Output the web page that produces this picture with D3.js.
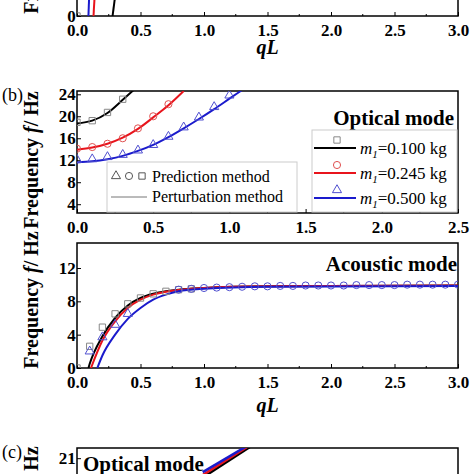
<!DOCTYPE html><html><head><meta charset="utf-8">
<script src="https://cdn.jsdelivr.net/npm/d3@7"></script>
<style>body{margin:0;background:#fff}text{font-family:"Liberation Serif",serif}</style></head><body>
<svg id="s" width="474" height="474"></svg>
<script>
const colors=["#000","#e8141c","#1a1acc"];
const mcol=["#888","#e05050","#5050d0"];
const masses=["0.100","0.245","0.500"];
// Panel a (partial)
const aLines=[[[0.28,0],[0.42,2.6]],[[0.13,0],[0.19,2.6]],[[0.09,0],[0.13,2.6]]];
const aMarks=[[[0.0,0],[0.2,1.7]],[[0.1,2.0],[0.15,0.9]],[[0.08,0.9]]];
// Panel b optical
const bX=[0,0.1,0.2,0.3,0.4,0.5,0.6,0.7,0.8,0.9,1.0,1.1];
const bLines=[[18.7,19.2,20.6,23.0,25.5],[13.9,14.3,15.0,16.1,17.7,19.8,22.0,24.6],[11.6,11.8,12.2,12.8,13.7,14.8,16.2,17.8,19.5,21.3,23.2,25.1]];
const bMarks=[[18.9,19.2,20.7,23.1],[14.1,14.4,15.0,16.0,17.8,20.0,22.2],[12.1,12.2,12.6,13.0,13.8,14.8,16.3,18.0,19.8,21.7,23.8]];
// Acoustic
const cLines=[
 [[0.09,0],[0.1,0.5],[0.2,3.8],[0.3,6.0],[0.4,7.5],[0.5,8.4],[0.6,8.9],[0.7,9.2],[0.8,9.4],[1.0,9.6],[1.5,9.8],[3.0,9.9]],
 [[0.11,0],[0.2,3.3],[0.3,5.6],[0.4,7.2],[0.5,8.2],[0.6,8.8],[0.7,9.15],[0.8,9.35],[1.0,9.6],[1.5,9.8],[3.0,9.9]],
 [[0.16,0],[0.2,1.5],[0.3,4.0],[0.4,5.9],[0.5,7.2],[0.6,8.2],[0.7,8.8],[0.8,9.2],[1.0,9.5],[1.5,9.75],[3.0,9.85]]];
const cSq=[[0,0],[0.1,2.6],[0.2,4.9],[0.3,6.5],[0.4,7.7],[0.5,8.4],[0.6,8.9],[0.7,9.2],[0.8,9.4],[0.9,9.5]];
const cTri=[[0.1,2.0],[0.2,3.7],[0.3,5.2],[0.4,6.5]];
const cCirX=[0.8,0.9,1.0,1.1,1.2,1.3,1.4,1.5,1.6,1.7,1.8,1.9,2.0,2.1,2.2,2.3,2.4,2.5,2.6,2.7,2.8,2.9,3.0];
const cCirY=[9.4,9.5,9.6,9.65,9.7,9.75,9.8,9.8,9.85,9.85,9.9,9.9,9.9,9.9,9.95,9.95,9.95,9.95,10,10,10,10,10];
// Panel c partial
const dLines=[[[1.0,19.0],[1.45,23]],[[0.97,19.0],[1.43,23]],[[0.99,19.5],[1.46,23.3]]];
const xt3=[0,0.5,1,1.5,2,2.5,3], xt25=[0,0.5,1,1.5,2,2.5];
const ytB=[4,8,12,16,20,24], ytC=[0,4,8,12];

const svg=d3.select("#s");
const L=77,R=458;
function sym(g,type,x,y,c){
  const t={sq:d3.symbolSquare,ci:d3.symbolCircle,tr:d3.symbolTriangle}[type];
  const size={sq:40,ci:40,tr:36}[type];
  g.append("path").attr("d",d3.symbol(t,size)()).attr("transform",`translate(${x},${y})`).attr("fill","none").attr("stroke",c).attr("stroke-width",1);
}
function panel(top,bot,xd,yd,xt,yt,showX){
  const x=d3.scaleLinear().domain(xd).range([L,R]);
  const y=d3.scaleLinear().domain(yd).range([bot,top]);
  const g=svg.append("g");
  const ax=g.append("g").attr("transform",`translate(0,${bot})`).call(d3.axisBottom(x).tickValues(xt).tickFormat(d3.format(".1f")).tickSize(-4).tickSizeOuter(0));
  ax.selectAll("text").attr("dy","1.0em").style("font-size","17px").style("font-weight","bold").style("font-family","Liberation Serif");
  if(!showX) ax.selectAll("text").remove();
  const ay=g.append("g").attr("transform",`translate(${L},0)`).call(d3.axisLeft(y).tickValues(yt).tickFormat(d3.format("d")).tickSize(-4).tickSizeOuter(0));
  ay.selectAll("text").attr("dx","0.1em").style("font-size","17px").style("font-weight","bold").style("font-family","Liberation Serif");
  const xm=[];for(let i=0;i<xt.length-1;i++)xm.push((xt[i]+xt[i+1])/2);
  g.selectAll(".xm").data(xm).join("line").attr("x1",x).attr("x2",x).attr("y1",bot).attr("y2",bot-2).attr("stroke","#000");
  g.append("rect").attr("x",L).attr("y",top).attr("width",R-L).attr("height",bot-top).attr("fill","none").attr("stroke","#000").attr("stroke-width",1.5);
  g.selectAll(".domain").remove();
  const clip="c"+top;
  svg.append("clipPath").attr("id",clip).append("rect").attr("x",L).attr("y",top).attr("width",R-L).attr("height",bot-top);
  const pg=svg.append("g").attr("clip-path",`url(#${clip})`);
  return {x,y,g,pg};
}
const line=(x,y)=>d3.line().x(d=>x(d[0])).y(d=>y(d[1])).curve(d3.curveMonotoneX);
function ylabel(cx,cy){svg.append("text").attr("transform",`translate(${cx},${cy}) rotate(-90)`).attr("text-anchor","middle").style("font-size","20px").style("font-weight","bold")
  .html('Frequency <tspan font-style="italic">f</tspan>/ Hz');}
function xlabel(cy){svg.append("text").attr("x",(L+R)/2).attr("y",cy).attr("text-anchor","middle").style("font-size","20px").style("font-weight","bold").style("font-style","italic").text("qL");}

// a
let P=panel(-120,16,[0,3],[0,2.6],xt3,[0],true);
aLines.forEach((l,i)=>P.pg.append("path").attr("d",line(P.x,P.y)(l)).attr("fill","none").attr("stroke",colors[i]).attr("stroke-width",2));
aMarks[0].forEach(d=>sym(P.pg,"sq",P.x(d[0]),P.y(d[1]),mcol[0]));
aMarks[1].forEach(d=>sym(P.pg,"ci",P.x(d[0]),P.y(d[1]),mcol[1]));
aMarks[2].forEach(d=>sym(P.pg,"tr",P.x(d[0]),P.y(d[1]),mcol[2]));
xlabel(54); ylabel(38,-55);

// b
P=panel(91,213,[0,2.5],[2.4,24.6],xt25,ytB,true);
bLines.forEach((l,i)=>P.pg.append("path").attr("d",line(P.x,P.y)(l.map((v,j)=>[bX[j],v]))).attr("fill","none").attr("stroke",colors[i]).attr("stroke-width",2));
const st=["sq","ci","tr"];
bMarks.forEach((m,i)=>m.forEach((v,j)=>sym(P.pg,st[i],P.x(bX[j]),P.y(v),mcol[i])));
svg.append("text").attr("x",454).attr("y",125).attr("text-anchor","end").style("font-size","21px").style("font-weight","bold").text("Optical mode");
svg.append("text").attr("x",2).attr("y",101).style("font-size","18px").text("(b)");
ylabel(38,160);
// legend 1
svg.append("rect").attr("x",107).attr("y",162).attr("width",190).attr("height",50).attr("fill","#fff").attr("stroke","#ccc");
sym(svg,"tr",116,176,"#555");sym(svg,"ci",129,176,"#555");sym(svg,"sq",142,176,"#555");
svg.append("text").attr("x",152).attr("y",182).style("font-size","16px").text("Prediction method");
svg.append("line").attr("x1",111).attr("x2",147).attr("y1",197).attr("y2",197).attr("stroke","#777").attr("stroke-width",1);
svg.append("text").attr("x",152).attr("y",202).style("font-size","16px").text("Perturbation method");
// legend 2
svg.append("rect").attr("x",312).attr("y",130).attr("width",145).attr("height",82).attr("fill","#fff").attr("stroke","#ccc");
masses.forEach((m,i)=>{const yy=148+i*25;
  svg.append("line").attr("x1",314).attr("x2",356).attr("y1",yy).attr("y2",yy).attr("stroke",colors[i]).attr("stroke-width",2);
  sym(svg,st[i],337,yy-8,mcol[i]);
  svg.append("text").attr("x",360).attr("y",yy+6).style("font-size","17px").html(`<tspan font-style="italic">m</tspan><tspan font-style="italic" font-size="11px" dy="4">1</tspan><tspan dy="-4">=${m} kg</tspan>`);
});

// acoustic
P=panel(243,368,[0,3],[0,15],xt3,ytC,true);
cLines.forEach((l,i)=>P.pg.append("path").attr("d",line(P.x,P.y)(l)).attr("fill","none").attr("stroke",colors[i]).attr("stroke-width",2));
cSq.forEach(d=>sym(P.pg,"sq",P.x(d[0]),P.y(d[1]),mcol[0]));
cTri.forEach(d=>sym(P.pg,"tr",P.x(d[0]),P.y(d[1]),mcol[2]));
cCirX.forEach((v,j)=>sym(P.pg,"ci",P.x(v),P.y(cCirY[j]),mcol[2]));
svg.append("text").attr("x",457).attr("y",271).attr("text-anchor","end").style("font-size","21px").style("font-weight","bold").text("Acoustic mode");
xlabel(412); ylabel(38,300);

// c
P=panel(448,560,[0,3],[10,22.1],xt3,[21],false);
dLines.forEach((l,i)=>P.pg.append("path").attr("d",line(P.x,P.y)(l)).attr("fill","none").attr("stroke",colors[i]).attr("stroke-width",2.5));
svg.append("text").attr("x",83).attr("y",471).style("font-size","21px").style("font-weight","bold").text("Optical mode");
svg.append("text").attr("x",2).attr("y",458).style("font-size","18px").text("(c)");
ylabel(38,515);
</script></body></html>
